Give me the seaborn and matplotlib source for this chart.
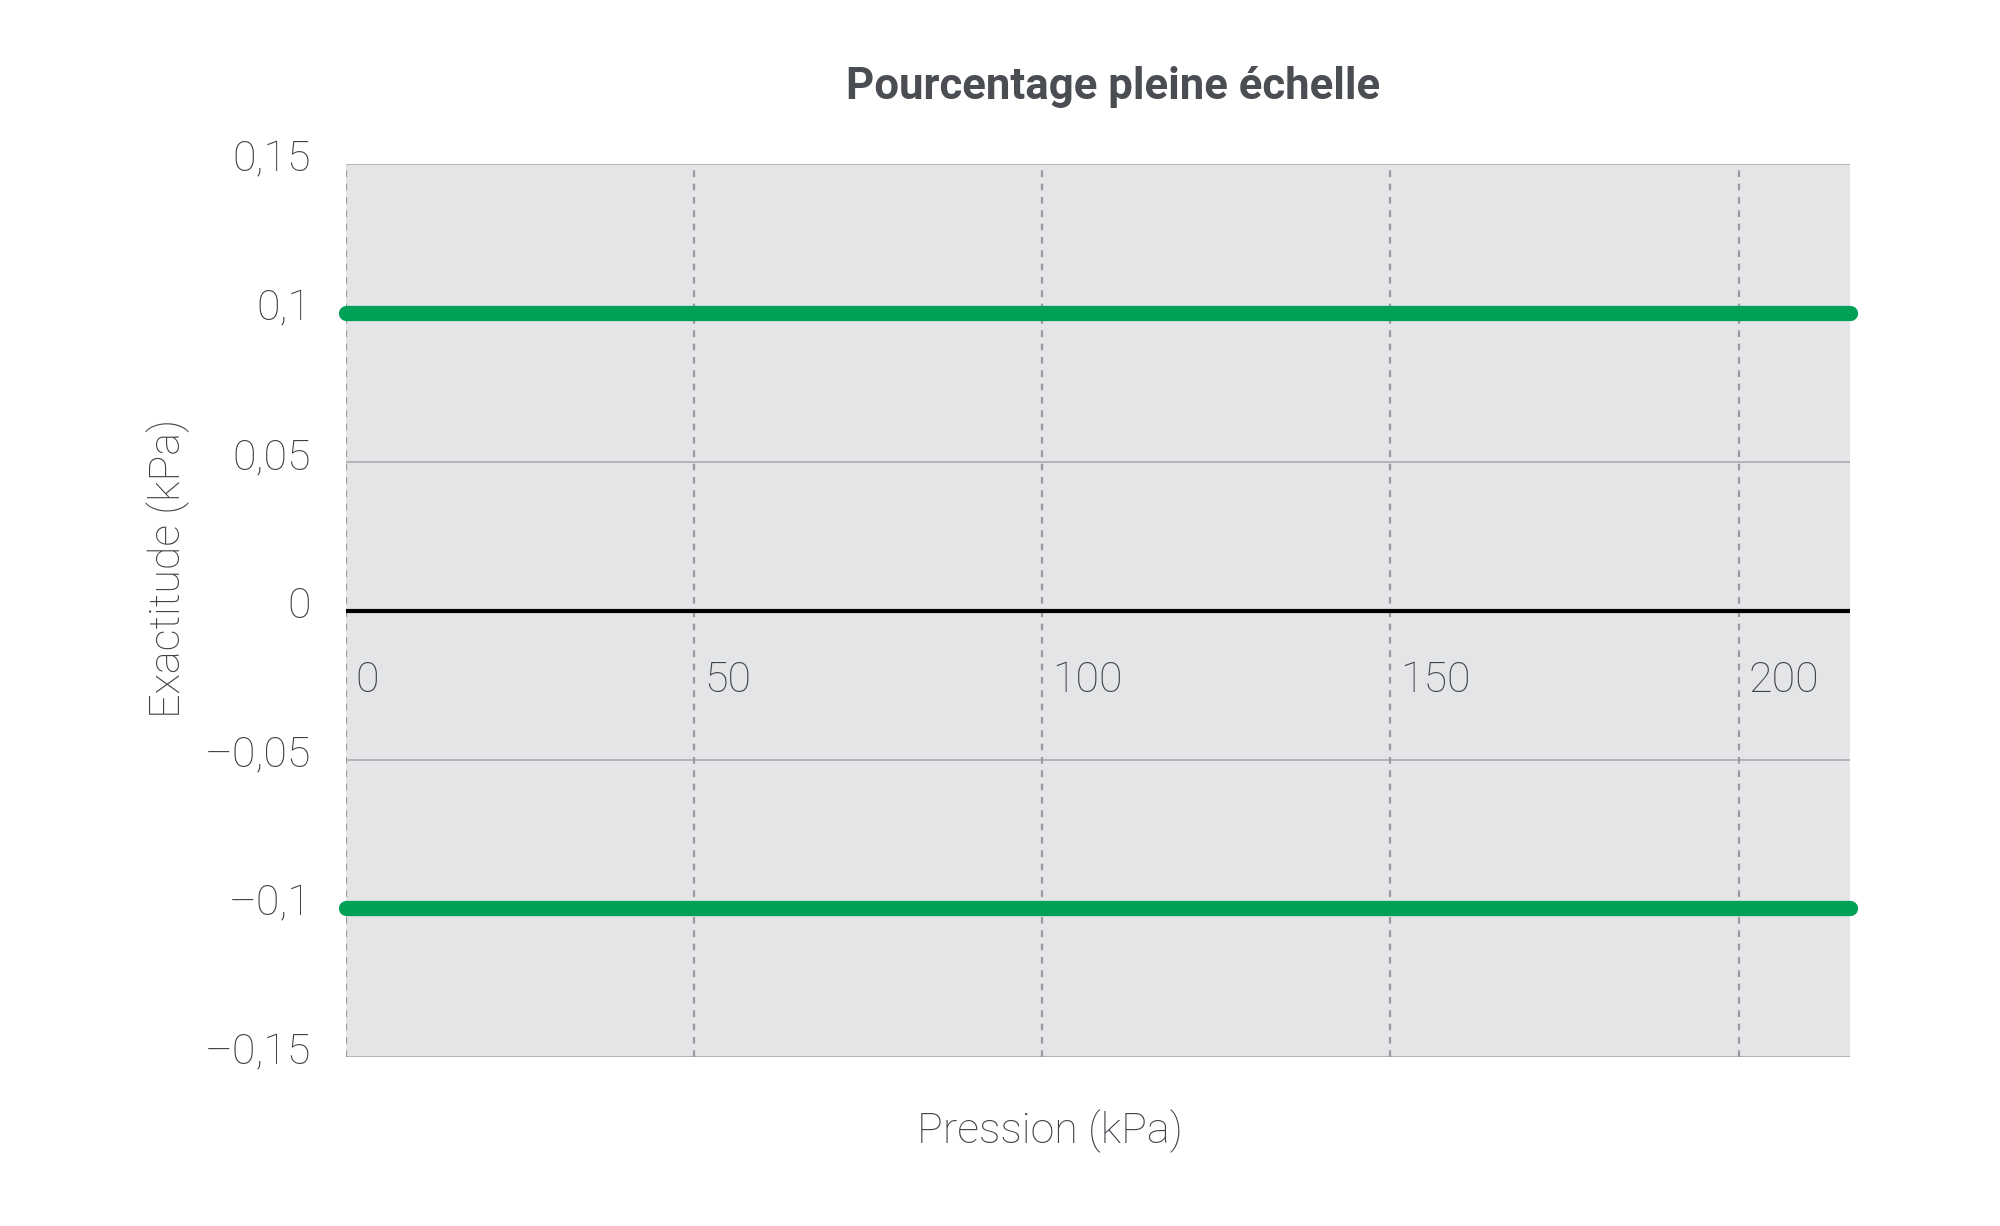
import matplotlib
matplotlib.use("Agg")
import matplotlib.pyplot as plt
from matplotlib.transforms import ScaledTranslation
import pandas as pd
import seaborn as sns

# chart data
pressure = [0, 216]
upper_limit = [0.1, 0.1]
lower_limit = [-0.1, -0.1]
zero_line = [0, 0]
x_ticks = [0, 50, 100, 150, 200]
x_tick_labels = ["0", "50", "100", "150", "200"]
y_ticks = [0.15, 0.1, 0.05, 0, -0.05, -0.1, -0.15]
y_tick_labels = ["0,15", "0,1", "0,05", "0", "\u20130,05", "\u20130,1", "\u20130,15"]

title = "Pourcentage pleine échelle"
xlabel = "Pression (kPa)"
ylabel = "Exactitude (kPa)"

green = "#00a056"
text_gray = "#3e4146"

sns.set_style("white")
plt.rcParams["font.family"] = ["Roboto", "DejaVu Sans"]

df = pd.DataFrame({"pression": pressure, "haut": upper_limit,
                   "bas": lower_limit, "zero": zero_line})

fig = plt.figure(figsize=(20, 12.26), dpi=100)
ax = fig.add_axes([0.173, 0.1377, 0.752, 0.7283])
ax.set_facecolor("#e4e5e7")

# grid
for y in y_ticks:
    ax.axhline(y, color="#aeb0b3", lw=1.3, zorder=1)
for x in x_ticks:
    ax.axvline(x, color="#9a9b9e", lw=1.6, ls=(0, (3, 3)), zorder=1)

sns.lineplot(data=df, x="pression", y="zero", ax=ax, color="black", lw=3,
             zorder=3, solid_capstyle="round")
for col in ["haut", "bas"]:
    sns.lineplot(data=df, x="pression", y=col, ax=ax, color=green, lw=11,
                 zorder=4, solid_capstyle="round", clip_on=False)

ax.set_xlim(0, 216)
ax.set_ylim(-0.15, 0.15)
for s in ax.spines.values():
    s.set_visible(False)

ax.set_xticks([])
ax.set_yticks(y_ticks)
ax.set_yticklabels(y_tick_labels, fontsize=31, color=text_gray, fontweight="light")
ax.tick_params(axis="y", length=0, pad=25)
# labels sit a little above their grid line
lift = ScaledTranslation(0, 0.09, fig.dpi_scale_trans)
for lab in ax.get_yticklabels():
    lab.set_transform(lab.get_transform() + lift)

# x tick labels sit inside the plot, just under the zero line
for x, lab in zip(x_ticks, x_tick_labels):
    ax.annotate(lab, xy=(x, -0.0235), xytext=(7, 0), textcoords="offset points",
                ha="left", va="center", fontsize=31, color=text_gray,
                fontweight="light")

ax.set_xlabel(xlabel, fontsize=31, color=text_gray, fontweight="light")
ax.xaxis.set_label_coords(0.468, -0.058)
ax.set_ylabel(ylabel, fontsize=31, color=text_gray, fontweight="light")
ax.yaxis.set_label_coords(-0.104, 0.547)

ax.set_title(title, fontsize=31.5, fontweight="bold", color="#4a4d52", pad=0, x=0.510, y=1.073)

plt.savefig("out.png", dpi=100)
